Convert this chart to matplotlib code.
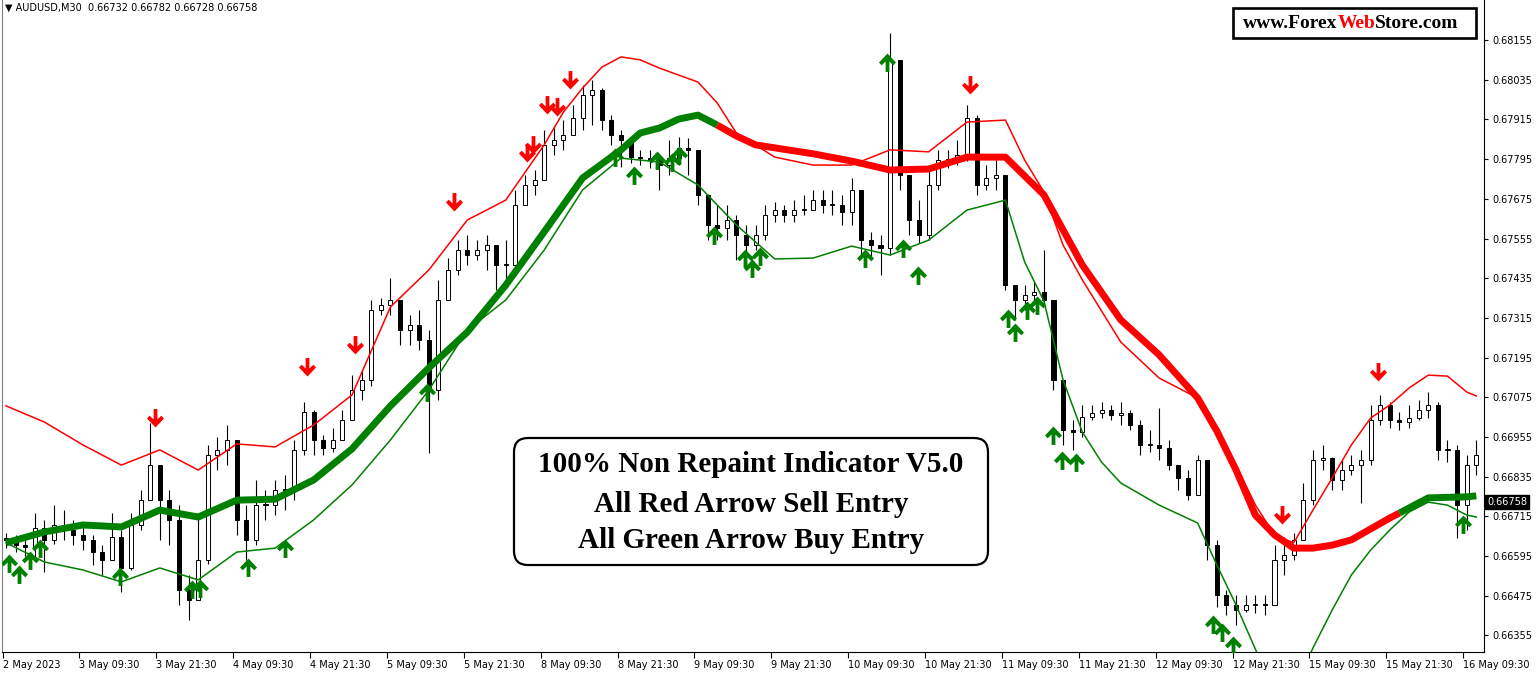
import numpy as np
import matplotlib
matplotlib.use("Agg")
import matplotlib.pyplot as plt
from matplotlib.path import Path
from matplotlib.patches import Rectangle, FancyBboxPatch
from matplotlib.transforms import IdentityTransform

# AUDUSD M30; one candle here = 3 M30 bars, prices in points (1e-5)
open_first = 66650
close_pts = [66644, 66628, 66622, 66680, 66644, 66689, 66674, 66659, 66644, 66607,
             66583, 66653, 66559, 66689, 66764, 66870, 66764, 66704, 66492, 66462,
             66583, 66901, 66916, 66945, 66704, 66644, 66749, 66749, 66795, 66795,
             66916, 67031, 66945, 66922, 66945, 67006, 67097, 67127, 67339, 67354,
             67369, 67278, 67294, 67248, 67097, 67369, 67460, 67520, 67505, 67520,
             67535, 67475, 67475, 67656, 67717, 67732, 67838, 67853, 67868, 67919,
             67989, 68004, 67913, 67868, 67853, 67801, 67798, 67792, 67777, 67798,
             67829, 67823, 67687, 67596, 67587, 67611, 67566, 67535, 67566, 67626,
             67641, 67626, 67641, 67641, 67671, 67656, 67656, 67635, 67702, 67550,
             67535, 67526, 68095, 67747, 67611, 67566, 67717, 67792, 67792, 67807,
             67919, 67717, 67738, 67747, 67414, 67369, 67384, 67393, 67369, 67127,
             66976, 66970, 67015, 67028, 67036, 67021, 67028, 66991, 66931, 66931,
             66922, 66870, 66831, 66780, 66885, 66628, 66477, 66447, 66432, 66447,
             66447, 66447, 66583, 66598, 66644, 66764, 66885, 66891, 66825, 66855,
             66870, 66885, 67006, 67052, 67006, 67000, 67012, 67036, 67052, 66916,
             66916, 66749, 66870, 66901]
high_pts = [66665, 66659, 66650, 66725, 66704, 66749, 66734, 66704, 66689, 66659,
            66628, 66725, 66674, 66725, 66795, 66997, 66870, 66795, 66749, 66538,
            66719, 66931, 66955, 66991, 66945, 66749, 66825, 66795, 66825, 66840,
            66945, 67061, 67036, 66961, 66982, 67036, 67142, 67158, 67369, 67375,
            67436, 67369, 67324, 67339, 67278, 67430, 67496, 67550, 67566, 67550,
            67566, 67535, 67550, 67702, 67747, 67762, 67883, 67889, 67913, 67959,
            68019, 68034, 68010, 67928, 67883, 67853, 67823, 67823, 67807, 67853,
            67862, 67859, 67823, 67690, 67656, 67656, 67626, 67596, 67596, 67656,
            67665, 67656, 67671, 67687, 67702, 67702, 67702, 67687, 67738, 67702,
            67575, 67566, 68176, 68095, 67747, 67671, 67777, 67823, 67823, 67853,
            67959, 67928, 67777, 67792, 67747, 67414, 67414, 67424, 67520, 67369,
            67127, 67006, 67052, 67052, 67061, 67052, 67061, 67036, 67006, 66976,
            67043, 66945, 66870, 66855, 66901, 66885, 66644, 66492, 66477, 66477,
            66477, 66477, 66628, 66653, 66665, 66816, 66916, 66931, 66895, 66885,
            66901, 66916, 67052, 67082, 67060, 67031, 67052, 67067, 67091, 67060,
            66945, 66931, 66901, 66945]
low_pts = [66619, 66607, 66595, 66583, 66547, 66630, 66644, 66628, 66613, 66568,
           66538, 66583, 66486, 66553, 66674, 66764, 66644, 66628, 66447, 66402,
           66462, 66570, 66855, 66870, 66659, 66583, 66628, 66704, 66719, 66734,
           66764, 66901, 66901, 66901, 66910, 66945, 67006, 67067, 67110, 67324,
           67324, 67233, 67233, 67218, 66907, 67067, 67369, 67445, 67475, 67490,
           67460, 67399, 67421, 67460, 67656, 67687, 67732, 67807, 67823, 67868,
           67883, 67898, 67883, 67838, 67771, 67783, 67777, 67768, 67702, 67747,
           67777, 67747, 67656, 67550, 67550, 67550, 67490, 67469, 67520, 67550,
           67605, 67605, 67605, 67626, 67641, 67632, 67626, 67596, 67596, 67505,
           67490, 67445, 67505, 67702, 67566, 67541, 67550, 67702, 67768, 67777,
           67790, 67687, 67702, 67702, 67399, 67309, 67339, 67354, 67354, 67097,
           66931, 66916, 66955, 67006, 67012, 67006, 66991, 66976, 66901, 66910,
           66885, 66855, 66795, 66764, 66780, 66583, 66441, 66417, 66387, 66426,
           66423, 66417, 66447, 66538, 66583, 66644, 66749, 66855, 66795, 66795,
           66840, 66755, 66870, 66991, 66982, 66976, 66982, 67006, 67012, 66885,
           66879, 66650, 66674, 66840]

# indicator: thick middle line (green / red parts)
mid_idx = [0, 4, 8, 12, 16, 20, 24, 28, 32, 36, 40, 44, 48, 52, 56, 60, 64, 66, 68, 70,
           72, 74, 76, 78, 80, 84, 88, 92, 96, 100, 104, 108, 112, 116, 120, 124, 126,
           128, 130, 132, 134, 136, 138, 140, 144, 145, 148, 152, 153]
mid_pts = [66635, 66668, 66689, 66683, 66734, 66713, 66764, 66767, 66825, 66919, 67049,
           67164, 67272, 67414, 67575, 67738, 67823, 67874, 67889, 67916,
           67928, 67898, 67865, 67838, 67829, 67811, 67789, 67762, 67765, 67801,
           67801, 67687, 67475, 67309, 67203, 67073, 66973,
           66855, 66719, 66659, 66619, 66619, 66628, 66644, 66710, 66725, 66771, 66774, 66777]
mid_red_from = 74
mid_red_to = 145

# upper red band
upper_idx = [0, 4, 8, 12, 16, 20, 24, 28, 32, 36, 40, 44, 48, 52, 56, 58, 60, 62, 64, 66,
             68, 70, 72, 74, 76, 80, 84, 88, 92, 96, 100, 104, 106, 108, 110, 112, 116,
             120, 124, 128, 130, 132, 134, 136, 138, 140, 142, 144, 146, 148, 150, 152, 153]
upper_pts = [67049, 67000, 66931, 66870, 66916, 66855, 66934, 66925, 66991, 67082,
             67348, 67460, 67611, 67671, 67838, 67937, 68010, 68073, 68104, 68095,
             68070, 68049, 68028, 67965, 67874, 67801, 67777, 67777, 67823, 67817,
             67907, 67913, 67792, 67696, 67535, 67430, 67242,
             67133, 67073, 66870, 66750, 66659, 66635, 66734, 66831, 66931, 67012,
             67052, 67103, 67142, 67139, 67091, 67079]

# lower green band
lower_idx = [0, 4, 8, 12, 16, 20, 24, 28, 32, 36, 40, 44, 48, 52, 56, 60, 64, 68, 72, 76,
             80, 84, 88, 92, 96, 100, 104, 106, 108, 110, 112, 114, 116, 120, 124, 126,
             128, 130, 132, 134, 136, 138, 140, 142, 144, 146, 148, 150, 152, 153]
lower_pts = [66635, 66577, 66553, 66517, 66559, 66523, 66607, 66619, 66704, 66810,
             66946, 67097, 67278, 67369, 67520, 67702, 67798, 67786, 67717, 67596,
             67493, 67496, 67532, 67505, 67550, 67641, 67671, 67484, 67366, 67127,
             66970, 66879, 66816, 66749, 66695, 66568,
             66447, 66314, 66190, 66190, 66317, 66432, 66538, 66613, 66674, 66728,
             66758, 66749, 66719, 66713]

sell_x = [15.5, 31.3, 36.3, 46.6, 54.2, 54.8, 56.3, 57.3, 58.7, 100.3, 132.8, 142.8]
sell_pts = [67012, 67167, 67233, 67665, 67813, 67838, 67959, 67953, 68034, 68019, 66719, 67151]
buy_x = [0.3, 1.4, 2.5, 3.5, 11.9, 19.3, 20.2, 25.2, 29.0, 43.8, 63.4, 65.3, 67.7, 69.3,
         70.0, 73.7, 76.9, 77.6, 78.5, 89.4, 91.7, 93.3, 94.9, 104.3, 105.0, 106.2, 107.3,
         108.9, 109.9, 111.3, 125.6, 126.5, 127.7, 151.6]
buy_pts = [66574, 66541, 66583, 66619, 66535, 66495, 66498, 66562, 66619, 67091, 67801,
           67747, 67792, 67786, 67807, 67566, 67496, 67466, 67502, 67496, 68089, 67526,
           67445, 67315, 67272, 67339, 67354, 66961, 66885, 66879, 66390, 66366, 66326, 66692]

date_labels = ['2 May 2023', '3 May 09:30', '3 May 21:30', '4 May 09:30', '4 May 21:30',
               '5 May 09:30', '5 May 21:30', '8 May 09:30', '8 May 21:30', '9 May 09:30',
               '9 May 21:30', '10 May 09:30', '10 May 21:30', '11 May 09:30', '11 May 21:30',
               '12 May 09:30', '12 May 21:30', '15 May 09:30', '15 May 21:30', '16 May 09:30']
price_ticks = [0.68155, 0.68035, 0.67915, 0.67795, 0.67675, 0.67555, 0.67435, 0.67315,
               0.67195, 0.67075, 0.66955, 0.66835, 0.66715, 0.66595, 0.66475, 0.66355]
last_price = 0.66758
header = "\u25bc AUDUSD,M30  0.66732 0.66782 0.66728 0.66758"

GREEN = '#008000'
RED = '#ff0000'

c = np.array(close_pts) / 1e5
o = np.concatenate([[open_first], close_pts[:-1]]) / 1e5
h = np.maximum(np.array(high_pts) / 1e5, np.maximum(o, c))
l = np.minimum(np.array(low_pts) / 1e5, np.minimum(o, c))
x = np.arange(len(c))

W, H = 1536, 673
fig = plt.figure(figsize=(W / 100, H / 100), dpi=100)
ax = fig.add_axes([2 / W, (H - 652) / H, (1484 - 2) / W, 652 / H])

# candles
ax.vlines(x, l, h, color='black', lw=0.8, zorder=2)
body = c - o
body = np.where(np.abs(body) < 0.00002, 0.00002, body)
cols = np.where(c >= o, 'white', 'black')
ax.bar(x, body, bottom=o, width=0.42, color=cols, edgecolor='black', linewidth=0.7, zorder=3)

# bands
ax.plot(upper_idx, np.array(upper_pts) / 1e5, color=RED, lw=1.1, zorder=4)
ax.plot(lower_idx, np.array(lower_pts) / 1e5, color=GREEN, lw=1.1, zorder=4)

mi = np.array(mid_idx)
mv = np.array(mid_pts) / 1e5
g1 = mi <= mid_red_from
rr = (mi >= mid_red_from) & (mi <= mid_red_to)
g2 = mi >= mid_red_to
ax.plot(mi[g1], mv[g1], color=GREEN, lw=5, solid_capstyle='butt', solid_joinstyle='round', zorder=5)
ax.plot(mi[rr], mv[rr], color=RED, lw=5, solid_capstyle='butt', solid_joinstyle='round', zorder=5)
ax.plot(mi[g2], mv[g2], color=GREEN, lw=5, solid_capstyle='butt', solid_joinstyle='round', zorder=5)

# arrows
up_verts = [(-0.2, -1), (0.2, -1), (0.2, 0.1), (0.62, -0.3), (0.9, 0.0), (0, 0.95),
            (-0.9, 0.0), (-0.62, -0.3), (-0.2, 0.1), (-0.2, -1)]
up_arrow = Path(up_verts, closed=True)
down_arrow = Path([(vx, -vy) for vx, vy in up_verts], closed=True)
ax.scatter(buy_x, np.array(buy_pts) / 1e5, marker=up_arrow, s=185, color=GREEN,
           linewidths=0, zorder=6)
ax.scatter(sell_x, np.array(sell_pts) / 1e5, marker=down_arrow, s=185, color=RED,
           linewidths=0, zorder=6)

ax.set_xlim(-0.42, 153.8)
ax.set_ylim(0.66305, 0.68276)

ax.set_xticks([-0.36 + 8 * j for j in range(len(date_labels))])
ax.set_xticklabels(date_labels, fontsize=7)
for t in ax.get_xticklabels():
    t.set_ha('left')
ax.yaxis.tick_right()
ax.set_yticks(price_ticks)
ax.set_yticklabels([f'{p:.5f}' for p in price_ticks], fontsize=7)
ax.tick_params(axis='x', direction='out', length=4, pad=2)
ax.tick_params(axis='y', direction='out', length=3, pad=3)
ax.spines['top'].set_visible(False)
ax.spines['left'].set_color('#808080')

ax.text(1.002, last_price, f'{last_price:.5f}', transform=ax.get_yaxis_transform(),
        fontsize=7, color='white', va='center', ha='left',
        bbox=dict(facecolor='black', edgecolor='black', pad=1.2), clip_on=False, zorder=10)

fig.text(5 / W, 1 - 8 / H, header, fontsize=7, va='center', ha='left')

# logo box top right
fig.add_artist(Rectangle((1233, H - 38), 243, 30, transform=IdentityTransform(),
                         facecolor='white', edgecolor='black', lw=1.9, zorder=8))
fig.canvas.draw()
r = fig.canvas.get_renderer()
xp = 1243
for s, col in [('www.Forex', 'black'), ('Web', RED), ('Store.com', 'black')]:
    t = fig.text(xp / W, 1 - 23 / H, s, color=col, fontsize=14, fontweight='bold',
                 family='Liberation Serif', va='center', ha='left', zorder=9)
    xp += t.get_window_extent(renderer=r).width

# center message box
fig.add_artist(FancyBboxPatch((514, H - 565), 474, 127, boxstyle='round,pad=0,rounding_size=14',
                              transform=IdentityTransform(), facecolor='white',
                              edgecolor='black', lw=1.6, zorder=8))
for yy, s in [(465, '100% Non Repaint Indicator V5.0'),
              (505, 'All Red Arrow Sell Entry'),
              (540, 'All Green Arrow Buy Entry')]:
    fig.text(751 / W, 1 - yy / H, s, fontsize=21, fontweight='bold', family='Liberation Serif',
             ha='center', va='center', zorder=9)

fig.savefig('out.png', dpi=100, facecolor='white')
